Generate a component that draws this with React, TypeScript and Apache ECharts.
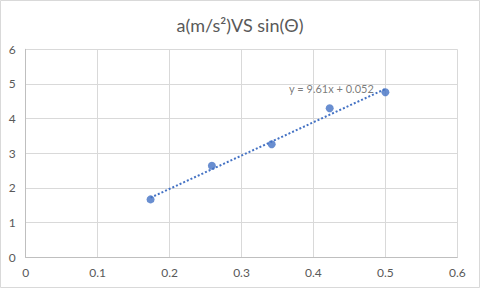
import React, { useEffect, useRef } from "react";
import * as echarts from "echarts";

const titleText = "a(m/s²)VS sin(Θ)";
const sinTheta = [0.1736, 0.2588, 0.342, 0.4226, 0.5];
const accel = [1.67, 2.64, 3.26, 4.3, 4.76];
const trendX = [0.1736, 0.5];
const trendY = [1.72, 4.857];
const trendLabel = "y = 9.61x + 0.052";
const xTicks = [0, 0.1, 0.2, 0.3, 0.4, 0.5, 0.6];
const yTicks = [0, 1, 2, 3, 4, 5, 6];

export default function App() {
  const ref = useRef<HTMLDivElement>(null);
  useEffect(() => {
    document.body.style.margin = "0";
    const chart = echarts.init(ref.current!, undefined, { renderer: "svg" });
    const font = "Lato, 'Open Sans', sans-serif";
    const last = trendX.length - 1;
    chart.setOption({
      animation: false,
      backgroundColor: "#ffffff",
      title: {
        text: titleText,
        left: "center",
        top: 11,
        textStyle: { color: "#595959", fontSize: 18, fontWeight: "normal", fontFamily: font },
      },
      graphic: [
        {
          type: "rect",
          shape: { x: 0.5, y: 0.5, width: 479, height: 287 },
          style: { fill: "none", stroke: "#D9D9D9", lineWidth: 1 },
          silent: true,
        },
      ],
      grid: { left: 25.7, right: 22.7, top: 49.3, bottom: 30.7 },
      xAxis: {
        type: "value",
        min: xTicks[0],
        max: xTicks[xTicks.length - 1],
        interval: 0.1,
        axisLine: { show: true, onZero: false, lineStyle: { color: "#BFBFBF" } },
        axisTick: { show: false },
        splitLine: { show: true, lineStyle: { color: "#D9D9D9" } },
        axisLabel: {
          color: "#595959",
          fontSize: 12,
          fontFamily: font,
          margin: 9,
          showMaxLabel: true,
          showMinLabel: true,
        },
      },
      yAxis: {
        type: "value",
        min: yTicks[0],
        max: yTicks[yTicks.length - 1],
        interval: 1,
        axisLine: { show: true, lineStyle: { color: "#BFBFBF" } },
        axisTick: { show: false },
        splitLine: { show: true, lineStyle: { color: "#D9D9D9" } },
        axisLabel: { color: "#595959", fontSize: 12, fontFamily: font, margin: 10 },
      },
      series: [
        {
          type: "line",
          data: trendX.map((x, i) => [x, trendY[i]]),
          showSymbol: false,
          symbol: "none",
          lineStyle: { color: "#4472C4", width: 2, type: [2, 2] },
          z: 2,
          silent: true,
        },
        {
          type: "scatter",
          data: sinTheta.map((x, i) => [x, accel[i]]),
          symbol: "circle",
          symbolSize: 8,
          itemStyle: { color: "#4472C4" },
          z: 3,
        },
        {
          type: "scatter",
          data: [[trendX[last], trendY[last]]],
          symbolSize: 1,
          itemStyle: { color: "rgba(0,0,0,0)" },
          label: {
            show: true,
            position: "left",
            distance: 11,
            formatter: trendLabel,
            color: "#595959",
            fontSize: 11,
            fontFamily: font,
          },
          z: 4,
          silent: true,
        },
      ],
    });
    return () => chart.dispose();
  }, []);
  return <div ref={ref} style={{ width: 480, height: 288 }} />;
}
